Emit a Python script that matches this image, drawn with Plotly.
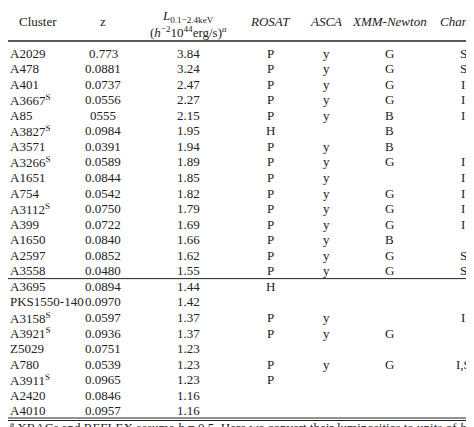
import plotly.graph_objects as go

clusters = ["A2029","A478","A401","A3667<sup>S</sup>","A85","A3827<sup>S</sup>","A3571","A3266<sup>S</sup>","A1651","A754",
            "A3112<sup>S</sup>","A399","A1650","A2597","A3558","A3695","PKS1550-140","A3158<sup>S</sup>","A3921<sup>S</sup>","Z5029",
            "A780","A3911<sup>S</sup>","A2420","A4010"]
z = ["0.773","0.0881","0.0737","0.0556","0555","0.0984","0.0391","0.0589","0.0844","0.0542",
     "0.0750","0.0722","0.0840","0.0852","0.0480","0.0894","0.0970","0.0597","0.0936","0.0751",
     "0.0539","0.0965","0.0846","0.0957"]
lum = ["3.84","3.24","2.47","2.27","2.15","1.95","1.94","1.89","1.85","1.82",
       "1.79","1.69","1.66","1.62","1.55","1.44","1.42","1.37","1.37","1.23",
       "1.23","1.23","1.16","1.16"]
rosat = ["P","P","P","P","P","H","P","P","P","P","P","P","P","P","P","H","","P","P","","P","P","",""]
asca = ["y","y","y","y","y","","y","y","y","y","y","y","y","y","y","","","y","y","","y","","",""]
xmm = ["G","G","G","G","B","B","B","G","","G","G","G","B","G","G","","","","G","","G","","",""]
chandra = ["S","S","I","I","I","","","I","I","I","I","I","","S","S","","","I","","","I,S","","",""]
headers = ["Cluster","z","<i>L</i><sub>0.1−2.4keV</sub>","<i>ROSAT</i>","<i>ASCA</i>","<i>XMM-Newton</i>","<i>Chandra</i>"]

font = dict(family="Liberation Serif, DejaVu Serif, serif", size=13, color="#222")
fig = go.Figure()
ann = []
colx = [None, 95, 180, 262, 318, 381, 455]
hx = [30, 95, 180, 262, 318, 381, 455]
for i, h in enumerate(headers):
    ann.append(dict(x=hx[i], y=13 if i != 2 else 8, text=h, showarrow=False, font=font, xanchor="center"))
ann.append(dict(x=180, y=24, text="(<i>h</i><sup>−2</sup>10<sup>44</sup>erg/s)<sup><i>a</i></sup>",
                showarrow=False, font=font, xanchor="center"))
y0, dy = 45, 15.56
cols = [z, lum, rosat, asca, xmm, chandra]
for r in range(len(clusters)):
    y = y0 + r * dy
    ann.append(dict(x=0, y=y, text=clusters[r], showarrow=False, font=font, xanchor="left"))
    for c, col in enumerate(cols):
        if col[r]:
            ann.append(dict(x=colx[c + 1], y=y, text=col[r], showarrow=False, font=font, xanchor="center"))
ann.append(dict(x=0, y=419, text="<sup>a</sup> XBACs and REFLEX assume <i>h</i> = 0.5. Here we convert their luminosities to units of <i>h</i> = 1.0",
                showarrow=False, font=font, xanchor="left"))
sep = y0 + 14.5 * dy
shapes = [dict(type="line", x0=0, x1=474, y0=33, y1=33, line=dict(color="#222", width=1.5)),
          dict(type="line", x0=0, x1=474, y0=sep, y1=sep, line=dict(color="#222", width=1)),
          dict(type="line", x0=0, x1=474, y0=410, y1=410, line=dict(color="#222", width=1)),
          dict(type="line", x0=0, x1=474, y0=412.5, y1=412.5, line=dict(color="#222", width=1))]
fig.update_layout(width=474, height=427, margin=dict(l=0, r=0, t=0, b=0),
                  paper_bgcolor="white", plot_bgcolor="white", annotations=ann, shapes=shapes,
                  xaxis=dict(range=[0, 474], visible=False, fixedrange=True),
                  yaxis=dict(range=[427, 0], visible=False, fixedrange=True), showlegend=False)
fig.write_html("out.html")
